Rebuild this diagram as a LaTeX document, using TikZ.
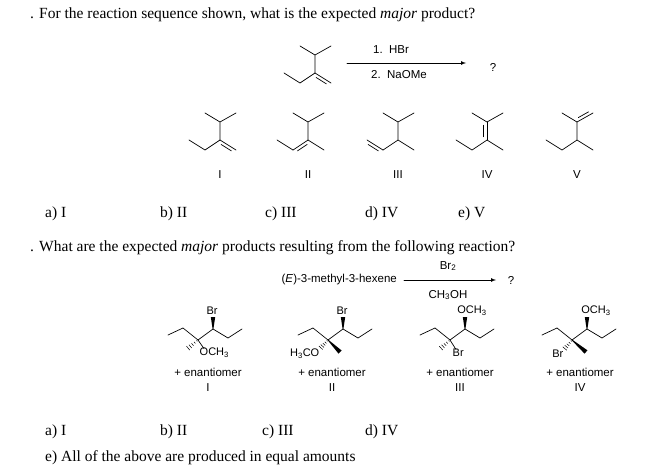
\documentclass[tikz,border=0pt]{standalone}
\usepackage{fontspec}
\setmainfont{Liberation Serif}
\newfontfamily\arial{Liberation Sans}
\usetikzlibrary{calc}
\tikzset{bond/.style={line width=0.7pt,line cap=round},
 qtext/.style={anchor=west,inner sep=0pt,font=\fontsize{15.5}{18}\selectfont},
 lab/.style={inner sep=0pt,font=\arial\fontsize{11.5}{13}\selectfont},
 atom/.style={inner sep=0.5pt,font=\arial\fontsize{11}{13}\selectfont}}
\newcommand{\dbl}[3]{\draw[bond] (#1)--(#2);
 \draw[bond] ($($(#1)!0.18!(#2)$)!3.2pt!#3:(#2)$) -- ($($(#2)!0.18!(#1)$)!3.2pt!-#3:(#1)$);}
\newcommand{\wdg}[2]{\fill ($(#1)!0.4pt!90:(#2)$) -- ($(#2)!2.2pt!-90:(#1)$) -- ($(#2)!2.2pt!90:(#1)$) -- ($(#1)!0.4pt!-90:(#2)$) -- cycle;}
\newcommand{\hsh}[2]{\foreach \t/\w in {0.1/0.6,0.3/1.1,0.5/1.6,0.7/2.1,0.9/2.6}{
 \draw[line width=0.5pt] ($($(#1)!\t!(#2)$)!\w pt!90:(#2)$) -- ($($(#1)!\t!(#2)$)!\w pt!-90:(#2)$);}}
\newcommand{\skel}{\coordinate (C) at (0,0); \coordinate (U) at (0,-18);
 \coordinate (T1) at (-15,-27); \coordinate (T2) at (16,-27);
 \coordinate (R) at (16,10); \coordinate (L) at (-15,10); \coordinate (LL) at (-31,0);}
\begin{document}
\begin{tikzpicture}[x=1pt,y=-1pt]
\useasboundingbox (0,0) rectangle (655,468);
\node[qtext] (q1) at (30,15) {. For the reaction sequence shown, what is the expected \textit{major} product?};
% start material
\begin{scope}[shift={(315,73)}]\skel
 \draw[bond] (T1)--(U)--(T2) (U)--(C)--(L)--(LL); \dbl{C}{R}{-90}
\end{scope}
\node[lab] (a1) at (391,50) {1.\ \ HBr};
\node[lab] (a2) at (399,75) {2.\ \ NaOMe};
\coordinate (ar1s) at (347,63); \coordinate (ar1e) at (466,63);
\draw[bond,-latex] (ar1s)--(ar1e);
\node[lab] (qm1) at (493,67) {?};
% options
\begin{scope}[shift={(220,140)}]\skel
 \draw[bond] (T1)--(U)--(T2) (U)--(C)--(L)--(LL); \dbl{C}{R}{-90}
\end{scope}
\begin{scope}[shift={(308,140)}]\skel
 \draw[bond] (T1)--(U)--(T2) (U)--(C)--(R) (L)--(LL); \dbl{C}{L}{90}
\end{scope}
\begin{scope}[shift={(398,140)}]\skel
 \draw[bond] (T1)--(U)--(T2) (U)--(C)--(R) (C)--(L); \dbl{L}{LL}{90}
\end{scope}
\begin{scope}[shift={(487,140)}]\skel
 \draw[bond] (T1)--(U)--(T2) (C)--(R) (C)--(L)--(LL); \dbl{U}{C}{-90}
\end{scope}
\begin{scope}[shift={(577,140)}]\skel
 \draw[bond] (T1)--(U)--(C)--(R) (C)--(L)--(LL); \dbl{U}{T2}{90}
\end{scope}
\node[lab] (r1) at (220,175) {I};
\node[lab] (r2) at (308,175) {II};
\node[lab] (r3) at (398,175) {III};
\node[lab] (r4) at (487,175) {IV};
\node[lab] (r5) at (577,175) {V};
\node[qtext] (o1) at (45,214) {a) I};
\node[qtext] (o2) at (160,214) {b) II};
\node[qtext] (o3) at (265,214) {c) III};
\node[qtext] (o4) at (365,214) {d) IV};
\node[qtext] (o5) at (458,214) {e) V};
% question 2
\node[qtext] (q2) at (30,248) {. What are the expected \textit{major} products resulting from the following reaction?};
\node[lab,anchor=east] (sm2) at (397,280) {(\textit{E})-3-methyl-3-hexene};
\coordinate (ar2s) at (404,280); \coordinate (ar2e) at (496,280);
\draw[bond,-latex] (ar2s)--(ar2e);
\node[lab] (br2) at (448,266) {Br\textsubscript{2}};
\node[lab] (meoh) at (448,295) {CH\textsubscript{3}OH};
\node[lab] (qm2) at (511,280) {?};
% products
\foreach \dx/\n in {0/a,130/b,252/c,374/d}{
 \begin{scope}[shift={(\dx,0)}]
 \coordinate (\n1) at (168,335); \coordinate (\n2) at (183,328); \coordinate (\n Q) at (198,340);
 \coordinate (\n B) at (213,329); \coordinate (\n5) at (228,338); \coordinate (\n6) at (242,329);
 \draw[bond] (\n1)--(\n2)--(\n Q)--(\n B)--(\n5)--(\n6);
 \coordinate (\n top) at (213,317);
 \wdg{\n B}{\n top}
 \end{scope}}
% I
\node[atom] (b1) at (212,311) {Br};
\coordinate (h1) at (187,349); \hsh{aQ}{h1}
\node[atom,anchor=west] (m1) at (199,353) {OCH\textsubscript{3}};
\draw[bond] (aQ)--($(m1.north west)+(5,1)$);
\node[lab] (e1) at (208,372) {+ enantiomer}; \node[lab] (n1) at (208,388) {I};
% II
\node[atom] (b2) at (342,311) {Br};
\node[atom,anchor=east] (m2) at (320,354) {H\textsubscript{3}CO};
\hsh{bQ}{m2.north east}
\coordinate (w2) at (340,352); \wdg{bQ}{w2}
\node[lab] (e2) at (332,372) {+ enantiomer}; \node[lab] (n2) at (332,388) {II};
% III
\node[atom] (b3) at (472,311) {OCH\textsubscript{3}};
\coordinate (h3) at (440,349); \hsh{cQ}{h3}
\node[atom,anchor=west] (m3) at (452,353) {Br};
\draw[bond] (cQ)--($(m3.north west)+(4,1)$);
\node[lab] (e3) at (460,372) {+ enantiomer}; \node[lab] (n3) at (460,388) {III};
% IV
\node[atom] (b4) at (596,311) {OCH\textsubscript{3}};
\node[atom,anchor=east] (m4) at (564,354) {Br};
\hsh{dQ}{m4.north east}
\coordinate (w4) at (586,352); \wdg{dQ}{w4}
\node[lab] (e4) at (580,372) {+ enantiomer}; \node[lab] (n4) at (580,388) {IV};
\node[qtext] (p1) at (45,432) {a) I};
\node[qtext] (p2) at (160,432) {b) II};
\node[qtext] (p3) at (262,432) {c) III};
\node[qtext] (p4) at (365,432) {d) IV};
\node[qtext] (p5) at (45,458) {e) All of the above are produced in equal amounts};
\end{tikzpicture}
\end{document}
